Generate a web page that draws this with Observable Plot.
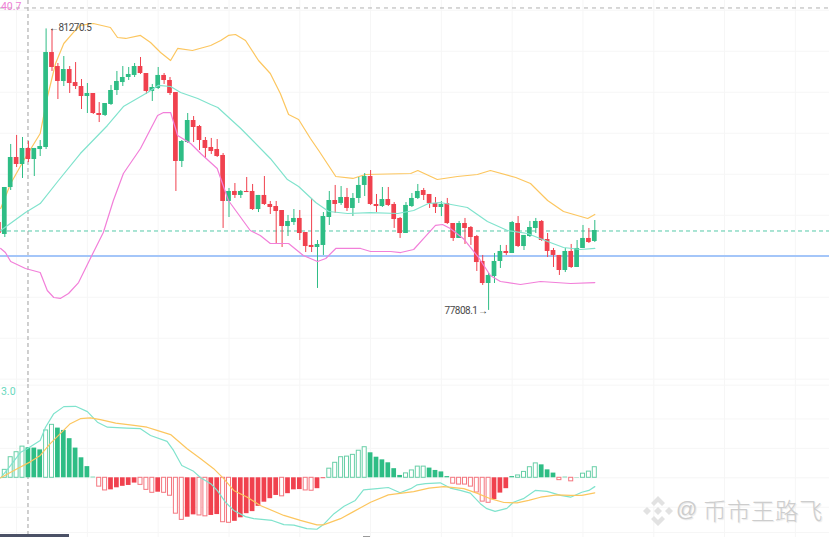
<!DOCTYPE html>
<html><head><meta charset="utf-8">
<script src="https://cdn.jsdelivr.net/npm/d3@7"></script>
<script src="https://cdn.jsdelivr.net/npm/@observablehq/plot@0.6"></script>
<style>
html,body{margin:0;padding:0;background:#fff;overflow:hidden;width:829px;height:537px}
#c{position:relative;width:829px;height:537px;font-family:Roboto,sans-serif}
#price,#macd{position:absolute;left:0}
#price{top:0}#macd{top:384px}
#wm{position:absolute;left:643px;top:494px;width:186px;height:34px}
#wm span{position:absolute;color:#cdcdcd;text-shadow:1px 1px 1px #e8e8e8}
.stub{position:absolute}
.lab text{letter-spacing:-0.5px}
</style></head><body>
<div id="c"><div id="price"></div><div id="macd"></div>
<div class="stub" style="left:0;top:534px;width:69px;height:3px;background:#4b5166"></div>
<div class="stub" style="left:363px;top:536px;width:7px;height:1px;background:#9a9a9a"></div>
<div id="wm">
<svg width="30" height="32" style="position:absolute;left:0;top:1px" viewBox="0 0 30 32"><g fill="#e2e2e2"><polygon points="15,1 22,8 19,11 15,7 11,11 8,8"/><polygon points="4,12 8,16 4,20 0,16"/><polygon points="26,12 30,16 26,20 22,16"/><polygon points="15,12 19,16 15,20 11,16"/><polygon points="15,31 22,24 19,21 15,25 11,21 8,24"/></g></svg>
<span style="left:33px;top:3px;font-size:21px;font-family:'Liberation Sans'">@</span>
<span style="left:60px;top:-1px;font-size:23.5px;letter-spacing:0.5px;font-weight:300;font-family:'Noto Sans CJK SC'">币市王路飞</span>
</div></div>
<script>
const opens=[78889,78742,79320,79689,79603,79800,79664,79787,79812,80980,80808,80624,80771,80611,80562,80439,80476,80230,80206,80341,80513,80611,80673,80698,80808,80722,80501,80538,80698,80636,80488,79640,79873,80144,80070,79898,79812,79787,79714,79148,79271,79222,79271,79271,79049,79222,79111,79086,79037,78840,78889,78939,78766,78607,78582,78607,78951,79160,79123,79197,79062,79185,79345,79455,79111,79086,79172,79111,78939,78754,79086,79185,79283,79234,79123,79074,79123,78877,78693,78877,78828,78717,78410,78139,78225,78410,78533,78508,78877,78594,78717,78816,78902,78680,78545,78484,78299,78533,78336,78570,78693,78656];
const closes=[78754,79320,79689,79603,79800,79664,79800,79824,80980,80796,80624,80771,80599,80562,80439,80476,80230,80206,80353,80513,80624,80673,80710,80808,80722,80501,80550,80698,80636,80476,79640,79886,80144,80058,79898,79800,79763,79701,79148,79271,79222,79271,79258,79049,79222,79111,79074,79025,78840,78902,78939,78754,78594,78582,78619,78963,79160,79111,79197,79062,79185,79345,79455,79111,79086,79172,79099,78926,78754,79099,79185,79271,79222,79123,79074,79111,78877,78693,78877,78816,78705,78397,78139,78238,78410,78533,78508,78889,78594,78730,78828,78902,78668,78533,78484,78299,78533,78336,78570,78693,78643,78791];
const highs=[78914,79320,79849,79960,79935,79886,79800,79898,81270.5,81263,80845,80931,80808,80857,80648,80599,80476,80365,80353,80575,80747,80808,80796,80845,80919,80722,80587,80796,80722,80673,80488,79898,80230,80193,80083,79935,79923,79910,79738,79308,79369,79283,79443,79357,79222,79455,79148,79148,79037,78976,79049,79037,78766,79185,78668,79012,79271,79345,79332,79308,79246,79443,79492,79529,79234,79320,79320,79135,78951,79135,79246,79357,79308,79234,79197,79148,79185,78877,78902,78939,78840,78730,78484,78262,78508,78607,78607,78902,78963,78730,78902,78939,78914,78754,78570,78484,78570,78619,78668,78853,78816,78914];
const lows=[78742,78705,79283,79566,79431,79627,79455,79701,79787,80747,80402,80562,80476,80525,80279,80230,80218,80119,80193,80329,80452,80562,80636,80673,80710,80464,80378,80525,80587,80452,79271,79566,79861,79873,79775,79677,79726,79689,78816,78951,79185,79185,79258,79037,79012,79099,78988,78631,78582,78717,78853,78668,78520,78520,78078,78484,78853,79000,79099,79025,78963,79123,79209,79099,79012,79074,79086,78816,78693,78754,79074,79172,79160,79062,79000,78963,78865,78656,78693,78619,78607,78287,78115,77808.1,78139,78324,78484,78508,78582,78545,78705,78754,78656,78459,78336,78238,78274,78324,78336,78570,78631,78643];

const upperX=[-0.7,1,3.2,6,7.2,8.6,10,11.6,12.8,15,17.9,19.1,20.5,23,24.7,26.4,28.1,29.3,31.8,34.9,36.6,37.9,39.1,40.8,43,45,46.7,48.1,49.8,51.8,53.2,56.1,59,61.1,68.8,70,73.3,76.7,80.1,82.3,86.6,89.1,92,94.7,98.8,100];
const upperY=[79062,79369,79652,79984,80427,80845,81091,81226,81313,81337,81288,81165,81153,81190,81103,80980,80882,81030,81005,81067,81128,81190,81202,81128,80882,80722,80476,80218,80156,79923,79775,79455,79431,79480,79492,79529,79418,79455,79480,79529,79443,79369,79160,79025,78939,78988];
const midX=[-0.7,3.5,6,9.1,12.8,17.4,20.1,24.2,26,28.1,29.8,32.7,34.9,36.1,40,45,47.9,49.8,52.7,54.9,58.1,62,66.6,69.3,71.8,73.8,78.4,81.8,85.2,88.6,92,94.7,97.6,100];
const midY=[78791,79012,79123,79406,79738,80083,80316,80488,80575,80562,80488,80415,80341,80304,80046,79677,79418,79332,79135,79025,79000,79012,79000,79037,79123,79135,79074,78902,78791,78754,78656,78582,78557,78570];
const lowerX=[-0.7,0.1,1,3.5,6,7.2,8.3,9.4,10.8,12.5,14.5,16.7,18.4,20.1,23,25.9,26.9,28.1,29.3,31.5,33.2,36,37.9,41.6,43.3,45,48.1,50.6,53,54.4,56.1,60.3,62,65.4,67.1,69.3,71,73,74.2,75.5,77.7,80.3,82.3,84,87.4,90.8,95.9,100];
const lowerY=[78570,78520,78410,78324,78274,78053,77967,77955,78016,78151,78447,78766,79160,79492,79800,80206,80242,80242,79960,79861,79738,79554,79160,78791,78730,78631,78631,78484,78410,78447,78570,78570,78533,78533,78520,78557,78693,78853,78865,78816,78693,78459,78238,78164,78127,78164,78139,78151];

const hist=[27,70,87,106,102,101,95,161,180,169,161,133,101,68,38,2,-30,-43,-41,-34,-29,-26,-18,-24,-41,-51,-49,-51,-61,-122,-143,-134,-126,-128,-131,-128,-125,-151,-153,-148,-136,-122,-115,-97,-83,-71,-60,-63,-54,-41,-40,-43,-44,-37,-3,31,51,70,72,78,92,104,85,70,61,51,31,8,15,25,38,38,33,25,20,4,-20,-23,-23,-30,-50,-81,-85,-74,-52,-37,4,8,20,36,49,44,27,16,-8,2,-12,1,14,21,36];
const hollow=[0,1,2,3,7,8,16,17,23,24,25,27,28,29,30,33,34,37,38,47,51,52,55,56,57,58,59,60,61,68,69,70,71,76,77,78,79,80,81,82,87,88,89,90,94,96,98,99,100];
const difX=[-0.7,1,2.7,3.8,6,6.9,8.3,10,12,14,15.7,17.4,20.7,23,24.7,27.5,28.6,30,32,33.2,34.9,36,37.4,38.8,40.8,42.2,45.3,47.3,49,51.2,52.9,54,55.8,57.5,59.4,60.8,63.1,65,67,68.8,69.9,71.3,73.8,75.5,77.2,78.9,80.6,81.7,83.1,85.1,86.2,87.9,89.9,91.9,94.2,95.9,97.8,99,100];
const difY=[0,42,87,99,127,172,218,242,243,225,189,172,169,167,144,124,93,42,22,0,-20,-43,-83,-111,-132,-139,-145,-159,-161,-173,-175,-159,-122,-97,-77,-41,-37,-33,-51,-37,-24,-20,-17,-35,-43,-52,-88,-105,-114,-104,-83,-71,-43,-46,-60,-66,-49,-43,-30];
const deaX=[-0.7,2.1,4.4,6,7.7,9.4,11.1,12.8,14.5,16.2,18.8,21.9,24.1,25.8,28.1,30.9,33.2,35.4,37.1,38.8,41.1,43.3,47.3,50.1,52.9,54,56.9,59.1,62,65,69.3,71.9,74.4,77.8,80,82.3,84.6,86.8,88.8,90.8,93.6,95.9,97.8,100];
const deaY=[0,31,55,76,116,150,184,201,204,198,186,178,172,161,147,99,65,31,-3,-43,-66,-94,-128,-145,-160,-160,-139,-115,-83,-58,-47,-35,-30,-37,-52,-71,-84,-85,-77,-66,-58,-60,-60,-51];

const gridCandles=[2,14,26,38,50,62,74,86,98,110,122,134];
const gridPrices=[81500,80996,80492,79987,79483,78979,78474,77970,77466,76962];
const gridMacd=[200,100,0,-100,-186,315];
const crossCandle=3.93, topPrice=81528, lastPrice=78785, alertPrice=78477;
const highLabel="81270.5", lowLabel="77808.1";

const green="#2ebd85", red="#f0414e", teal="#80e3cd", gold="#fcc65f", pink="#f27fd9", gridc="#f6f6f6";
const xd=[-0.729,139.78];
const candles=opens.map((o,k)=>({i:k-1,o,c:closes[k],h:highs[k],l:lows[k],col:closes[k]>=o?green:red}));
const line=(X,Y)=>X.map((x,k)=>({x,y:Y[k]}));
const W=0.4;

const p1=Plot.plot({width:829,height:384,margin:0,
  x:{domain:xd,range:[0,829],axis:null},
  y:{domain:[81620,76896.8],range:[0,384],axis:null},
  style:{background:"transparent",fontFamily:"Roboto,sans-serif"},
  marks:[
    Plot.ruleX(gridCandles,{stroke:gridc}),
    Plot.ruleY(gridPrices,{stroke:gridc}),
    Plot.ruleX([crossCandle],{stroke:"#a0a0a0",strokeDasharray:"4,3"}),
    Plot.ruleY([topPrice],{stroke:"#b0b0b0",strokeDasharray:"4,4"}),
    Plot.ruleY([alertPrice],{stroke:"#a4c6f9",strokeWidth:2}),
    Plot.ruleY([lastPrice],{stroke:"#55c9a8",strokeDasharray:"4,3"}),
    Plot.line(line(upperX,upperY),{x:"x",y:"y",stroke:gold,strokeWidth:1.2}),
    Plot.ruleX(candles,{x:"i",y1:"l",y2:"h",stroke:"col",strokeWidth:1}),
    Plot.rect(candles,{x1:d=>d.i-W,x2:d=>d.i+W,y1:"o",y2:"c",fill:"col",inset:0}),
    Plot.line(line(midX,midY),{x:"x",y:"y",stroke:teal,strokeWidth:1.2}),
    Plot.line(line(lowerX,lowerY),{x:"x",y:"y",stroke:pink,strokeWidth:1.2}),
    Plot.text([highLabel],{x:[9.1],y:[81290],text:d=>d,textAnchor:"start",fontSize:10,fill:"#4a4a4a",className:"lab"}),
    Plot.text(["←"],{x:[7.5],y:[81290],text:d=>d,textAnchor:"start",fontSize:10,fontWeight:"bold",fill:"#333"}),
    Plot.text([lowLabel],{x:[80.1],y:[77808],text:d=>d,textAnchor:"end",fontSize:10,fill:"#4a4a4a",className:"lab"}),
    Plot.text(["→"],{x:[81.9],y:[77808],text:d=>d,textAnchor:"end",fontSize:10,fontWeight:"bold",fill:"#333"}),
    Plot.text(["40.7"],{x:[-0.65],y:[81550],text:d=>d,textAnchor:"start",fontSize:10.5,fill:"#ee7fd6"})
  ]});
document.getElementById("price").append(p1);

const hs=hist.map((v,k)=>({i:k,v,col:v>=0?green:red,open:hollow.includes(k)}));
const p2=Plot.plot({width:829,height:153,margin:0,
  x:{domain:xd,range:[0,829],axis:null},
  y:{domain:[317.2,-202.98],range:[0,153],axis:null},
  style:{background:"transparent",fontFamily:"Roboto,sans-serif"},
  marks:[
    Plot.ruleX(gridCandles,{stroke:gridc}),
    Plot.ruleY(gridMacd,{stroke:gridc}),
    Plot.ruleX([crossCandle],{stroke:"#a0a0a0",strokeDasharray:"4,3"}),
    Plot.rect(hs.filter(d=>!d.open),{x1:d=>d.i-W,x2:d=>d.i+W,y1:0,y2:"v",fill:"col",inset:0}),
    Plot.rect(hs.filter(d=>d.open),{x1:d=>d.i-0.34,x2:d=>d.i+0.34,y1:0,y2:"v",fill:"#fff",stroke:"col",strokeOpacity:0.72,strokeWidth:1,inset:0}),
    Plot.line(line(difX,difY),{x:"x",y:"y",stroke:teal,strokeWidth:1.2}),
    Plot.line(line(deaX,deaY),{x:"x",y:"y",stroke:gold,strokeWidth:1.2}),
    Plot.text(["3.0"],{x:[-0.65],y:[293],text:d=>d,textAnchor:"start",fontSize:10.5,fill:"#68d8bd"})
  ]});
document.getElementById("macd").append(p2);
</script></body></html>
